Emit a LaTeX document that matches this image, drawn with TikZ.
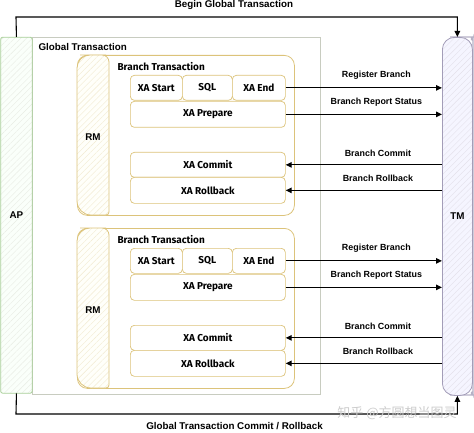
\documentclass[tikz,border=0pt]{standalone}
\usepackage{fontspec}
\setmainfont{Liberation Sans}
\newfontfamily\hand{Fira Sans}
\newfontfamily\cjk{Noto Sans CJK SC}
\usetikzlibrary{arrows.meta,patterns.meta,calc}
\definecolor{apgreen}{HTML}{A8CF98}
\definecolor{gold}{HTML}{DCC37A}
\definecolor{gtgrey}{HTML}{C8CCC0}
\definecolor{tmpurple}{HTML}{A39DB8}
\definecolor{aphatch}{HTML}{E8ECE4}
\definecolor{rmhatch}{HTML}{F2EAD0}
\definecolor{tmhatch}{HTML}{E4E1EB}
\newcommand{\mybranch}[2]{%
\begin{scope}[shift={(77,#2)}]
  \node[draw=gold, line width=0.8, rounded corners=10, minimum width=217, minimum height=160, anchor=north west, inner sep=0] (#1box) at (0,0) {};
  \path[draw=gold, line width=0.8, preaction={fill=white!98!yellow}, pattern={Lines[angle=45,distance=4.2pt,line width=0.4pt]}, pattern color=rmhatch]
    (0,80) [rounded corners=13] |- (16,0) [rounded corners=7] -| (32,80) [rounded corners=3] |- (16,160) [rounded corners=14] -| (0,80) -- cycle;
  \node[title] (#1rm) at (16,82) {RM};
  \node[hd, anchor=west] (#1lbl) at (37,12) {Branch Transaction};
  \node[xabox, minimum width=52, minimum height=25] (#1start) at (53,20) {XA Start};
  \node[xabox, minimum width=50, minimum height=25] (#1sql) at (105,20) {SQL};
  \node[xabox, minimum width=53, minimum height=25] (#1end) at (155,20) {XA End};
  \node[xabox, minimum width=155, minimum height=26] (#1prep) at (53,46) {XA Prepare};
  \node[xabox, minimum width=155, minimum height=25] (#1commit) at (53,97) {XA Commit};
  \node[xabox, minimum width=155, minimum height=26] (#1rb) at (53,122) {XA Rollback};
  \draw[arr] (#1end.east) -- (#1end.east -| tm.west) node[lbl, pos=0.58, yshift=13] (#1l1) {Register Branch};
  \draw[arr] (#1prep.east) -- (#1prep.east -| tm.west) node[lbl, pos=0.58, yshift=12] (#1l2) {Branch Report Status};
  \draw[arr] (#1commit.east -| tm.west) -- (#1commit.east) node[lbl, pos=0.41, yshift=12] (#1l3) {Branch Commit};
  \draw[arr] (#1rb.east -| tm.west) -- (#1rb.east) node[lbl, pos=0.41, yshift=12] (#1l4) {Branch Rollback};
\end{scope}}
\begin{document}
\begin{tikzpicture}[x=1pt,y=-1pt,
  lbl/.style={font={\fontsize{8.9}{10}\selectfont\bfseries}},
  title/.style={font={\fontsize{9.8}{11}\selectfont\bfseries}},
  hd/.style={font={\hand\fontsize{10}{11}\selectfont\bfseries}},
  xabox/.style={draw=gold, line width=0.7, rounded corners=4, fill=white, hd, inner sep=0, anchor=north west},
  arr/.style={line width=1.1, -{Triangle[length=6,width=5.5]}}]
\useasboundingbox (0,0) rectangle (474,433);
\node[draw=gtgrey, line width=0.8, minimum width=288, minimum height=357, anchor=north west, inner sep=0] (gt) at (32,37) {};
\node[title, anchor=west] (gtlbl) at (35,47) {Global Transaction};
\node[draw=apgreen, line width=0.8, rounded corners=2, minimum width=31.5, minimum height=356, anchor=north west, inner sep=0,
  preaction={fill=white!98!green}, pattern={Lines[angle=45,distance=4.2pt,line width=0.4pt]}, pattern color=aphatch, title] (ap) at (0.5,37) {AP};
\draw[tmpurple!80, line width=1.2, rounded corners=12] (460,37) -- (462,37) to[out=0,in=90] (473,50) -- (473,382) to[out=-90,in=0] (462,395) -- (460,395);
\node[draw=tmpurple, line width=0.8, rounded corners=12, minimum width=30, minimum height=358, anchor=north west, inner sep=0,
  preaction={fill=white!96!blue}, pattern={Lines[angle=45,distance=4.2pt,line width=0.4pt]}, pattern color=tmhatch, title] (tm) at (442,37) {TM};
\coordinate (topl) at (16,17);
\coordinate (botl) at (16,414);
\draw[arr] (ap.north) -- (topl) -| (tm.north);
\draw[arr] (ap.south) -- (botl) -| (tm.south);
\node[title] (beginlbl) at (234,5) {Begin Global Transaction};
\node[title] (endlbl) at (234.5,426) {Global Transaction Commit / Rollback};
\mybranch{a}{55}
\mybranch{b}{228}
\node[text=gray!40, font={\cjk\fontsize{13}{14}\selectfont}] (wm) at (397,413) {知乎 @方圆想当图灵};
\end{tikzpicture}
\end{document}
